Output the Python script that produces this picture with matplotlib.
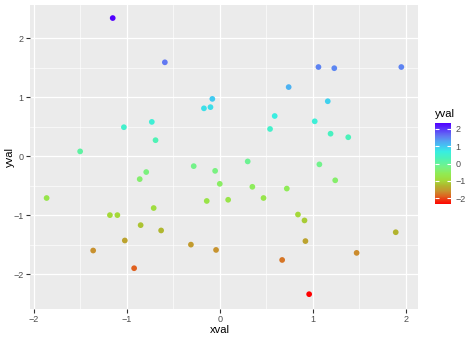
import numpy as np
import matplotlib
matplotlib.use("Agg")
import matplotlib.pyplot as plt
from matplotlib.colors import LinearSegmentedColormap

plt.rcParams['font.family'] = ['Liberation Sans', 'DejaVu Sans']

xval = [-1.15, -0.59, 1.06, 1.23, 1.95, 0.74, 1.16, -0.08, -0.10, -0.17,
        0.59, -1.03, -0.73, -0.69, 0.54, 1.02, 1.19, 1.38, -1.50, 0.30,
        1.07, -0.28, -0.05, 0.00, -0.79, -0.86, -1.86, -0.14, 0.09, -0.71,
        -1.18, -1.10, -0.85, -0.63, -1.02, -1.36, -0.31, -0.04, -0.92, 1.24,
        0.35, 0.72, 0.47, 0.84, 0.91, 1.89, 0.92, 1.47, 0.67, 0.96]
yval = [2.34, 1.59, 1.51, 1.49, 1.51, 1.17, 0.93, 0.97, 0.83, 0.81,
        0.68, 0.49, 0.58, 0.27, 0.46, 0.59, 0.38, 0.32, 0.08, -0.09,
        -0.14, -0.17, -0.25, -0.47, -0.27, -0.39, -0.71, -0.76, -0.74, -0.88,
        -1.00, -1.00, -1.17, -1.26, -1.43, -1.60, -1.50, -1.59, -1.90, -0.41,
        -0.52, -0.55, -0.71, -0.99, -1.09, -1.29, -1.44, -1.64, -1.76, -2.34]

# rainbow-ish gradient (ggplot interpolates in Lab, so the warm end goes muddy)
grad_vals = [-2.34, -1.9, -1.6, -1.3, -1.0, -0.6, -0.2, 0.3, 0.7, 1.0, 1.3, 1.6, 2.34]
grad_cols = ['#FF0000', '#E0601E', '#C8922E', '#B2B22E', '#A4D838', '#92EA52',
             '#76F286', '#4CF2B8', '#38EEE2', '#42C8F2', '#52A4F2', '#6276F2', '#5200FF']

vmin, vmax = min(yval), max(yval)
stops = [(v - vmin) / (vmax - vmin) for v in grad_vals]
cmap = LinearSegmentedColormap.from_list('rb', list(zip(stops, grad_cols)))

fig = plt.figure(figsize=(4.74, 3.38), dpi=100)
ax = fig.add_axes([0.063, 0.086, 0.819, 0.899])
ax.set_facecolor('#EBEBEB')
sc = ax.scatter(xval, yval, c=yval, cmap=cmap, vmin=vmin, vmax=vmax, s=17,
                linewidths=0, zorder=3)

ax.set_xlim(-2.04, 2.13)
ax.set_ylim(-2.59, 2.56)
ax.set_xticks([-2, -1, 0, 1, 2])
ax.set_yticks([-2, -1, 0, 1, 2])
ax.set_xticks([-1.5, -0.5, 0.5, 1.5], minor=True)
ax.set_yticks([-1.5, -0.5, 0.5, 1.5], minor=True)
ax.grid(which='major', color='white', linewidth=0.9)
ax.grid(which='minor', color='white', linewidth=0.45)
ax.set_axisbelow(True)
for s in ax.spines.values():
    s.set_visible(False)
ax.tick_params(which='major', length=3, width=0.8, color='#333333',
               labelsize=6.5, labelcolor='#4D4D4D', pad=1.5)
ax.tick_params(which='minor', length=0)
ax.set_xlabel('xval', fontsize=8, va='top')
ax.set_ylabel('yval', fontsize=8, va='center')
ax.xaxis.set_label_coords(0.49, -0.054)
ax.yaxis.set_label_coords(-0.052, 0.5)

cax = fig.add_axes([0.918, 0.396, 0.034, 0.24])
cb = fig.colorbar(sc, cax=cax, ticks=[-2, -1, 0, 1, 2])
cb.outline.set_visible(False)
cax.tick_params(direction='in', color='white', length=3, width=0.8,
                left=True, right=True, labelleft=False, labelright=True,
                labelsize=6.5, labelcolor='#4D4D4D', pad=3)
cax.set_title('yval', fontsize=8, loc='left', pad=4)

fig.savefig('out.png', dpi=100)
